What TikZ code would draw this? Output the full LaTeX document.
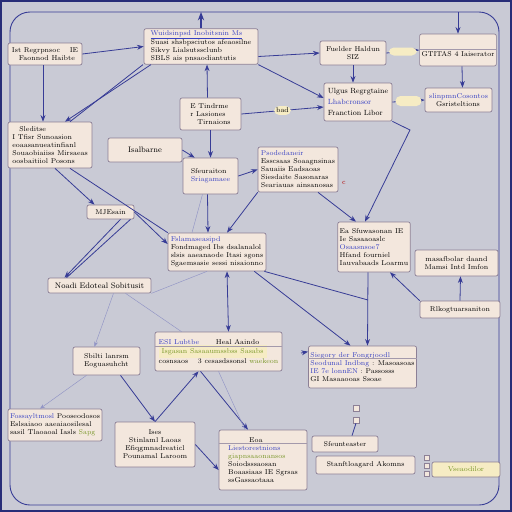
\documentclass[tikz,border=0pt]{standalone}
\usepackage{xcolor}
\definecolor{bgcol}{RGB}{201, 202, 213}
\definecolor{navyedge}{RGB}{40, 45, 120}
\definecolor{boxfill}{RGB}{243, 231, 221}
\definecolor{boxline}{RGB}{140, 128, 150}
\definecolor{linkblue}{RGB}{55, 60, 150}
\definecolor{titleblue}{RGB}{55, 65, 195}
\definecolor{blobyellow}{RGB}{246, 236, 196}
\definecolor{leafgreen}{RGB}{120, 150, 40}
\usepackage{tikz}
\usetikzlibrary{arrows.meta, positioning, calc}

\begin{document}
\begin{tikzpicture}[x=1pt, y=-1pt, >=Stealth,
    box/.style={draw=boxline, fill=boxfill, rounded corners=2pt, line width=0.7pt,
      font=\fontsize{7}{8}\selectfont, inner sep=2pt, align=left},
    link/.style={draw=linkblue, line width=0.8pt},
    faint/.style={draw=linkblue!55, line width=0.45pt},
    blob/.style={fill=blobyellow, rounded corners=5pt, inner sep=2pt, font=\fontsize{7}{8}\selectfont},
    sep/.style={draw=boxline!80, line width=0.4pt},
    icon/.style={draw=boxline, fill=boxfill, minimum size=6pt, inner sep=0pt}]
    \useasboundingbox (0,0) rectangle (512,512);
    \fill[bgcol] (0,0) rectangle (512,512);
    \draw[navyedge, line width=2pt] (1,1) rectangle (511,511);
    \draw[linkblue, line width=0.9pt, rounded corners=20pt] (10,12) rectangle (499,505);

    \node[box, minimum width=74pt, minimum height=22pt] (ist) at (45,54) {Ist Regrpnsoc \quad IE\\ \quad Faonnod Haibte};
    \node[box, minimum width=114pt, minimum height=35pt] (wuid) at (201,46.5) {\textcolor{titleblue}{\underline{Wuidsinpsd Inobitsnin Ms}}\\Suasi shsbpsciutos afeaosilne\\Sikvy Lialsutssclunb\\SBLS ais pnsaodiantutis};
    \node[box, minimum width=66pt, minimum height=24pt, align=center] (fuel) at (353,53) {Fuelder Haldun\\SIZ};
    \node[box, minimum width=68pt, minimum height=32pt] (gtit) at (458,50) {\strut\\GTITAS 4 Iaiserator};
    \node[box, minimum width=68pt, minimum height=38pt, font=\fontsize{7.5}{11}\selectfont] (ulgus) at (358,102) {Ulgus Regrgtaine\\\textcolor{titleblue}{Lhabcronsor}\\Franction Libor};
    \node[box, minimum width=67pt, minimum height=24pt] (slin) at (458.5,100) {\textcolor{titleblue}{slinpmnCosontos}\\\quad Gsristeltions};
    \node[box, minimum width=61pt, minimum height=32pt] (tind) at (210.5,114) {E Tindrme\\r Lasiones\\\quad Tirnaions};
    \node[box, minimum width=84pt, minimum height=46pt] (sled) at (50,145) {\quad Sleditse\\I Tfisr Sunoasion\\eoaasanueatinfianl\\Souaobiaiiss Mirsaeas\\oosbaitiiol Posons};
    \node[box, minimum width=74pt, minimum height=24pt, font=\fontsize{8}{9}\selectfont] (isal) at (145,150) {Isalbarne};
    \node[box, minimum width=55pt, minimum height=36pt] (sfeu) at (210.5,176) {Sfeuraiton\\\textcolor{titleblue}{Sriagamaee}};
    \node[box, minimum width=80pt, minimum height=45pt] (psod) at (298,169.5) {\hfill\textcolor{titleblue}{Psodedaneir}\\Esscsaas Soaagnsinas\\Sauaiis Eadsaoas\\Siesdaite Sasonaras\\Seariauas ainsanosas};
    \node[box, minimum width=47pt, minimum height=14pt] (mje) at (110.5,212) {MJEsain};
    \node[box, minimum width=98pt, minimum height=38pt] (fsck) at (217,252) {\textcolor{titleblue}{Fslamaseasipd}\\Fondmaged Ibs dsalanalol\\slsis aaeanaode Itasi sgons\\Sgaemsasie sessi nisaionno};
    \node[box, minimum width=72pt, minimum height=50pt] (ea) at (374,247) {Ea Sfuwasonan IE\\Ie Sasaaoaslc\\\textcolor{titleblue}{Osaasnsoe7}\\Hfand fourniel\\Iauvabaads Loarmu};
    \node[box, minimum width=103pt, minimum height=15pt, font=\fontsize{8}{9}\selectfont] (noad) at (99.5,285.5) {Noadi Edoteal Sobitusit};
    \node[box, minimum width=83pt, minimum height=26pt, align=center] (masa) at (456.5,263) {masafbolar daand\\Mamsi Intd Imfon};
    \node[box, minimum width=80pt, minimum height=17pt] (rlko) at (460,309.5) {Rlkogtuarsaniton};
    \node[box, minimum width=127pt, minimum height=39pt] (esil) at (218.5,351.5) {\textcolor{titleblue}{ESI Lubtbe} \qquad Heal Aaindo\\\colorbox{blobyellow}{\textcolor{leafgreen}{Isgasan Sasaaumssbss Sasabs}}\\cosnsaos \quad 3 cesasdssonsl \textcolor{leafgreen}{waekeon}};
    \node[box, minimum width=67pt, minimum height=28pt] (sbil) at (106.5,361) {Sbilti lanrsm\\Eoguasuhcht};
    \node[box, minimum width=95pt, minimum height=42pt] (sieg) at (362.5,367) {\textcolor{titleblue}{Siegory der Fongrjoodl}\\\textcolor{titleblue}{Seodunal Indbng} : Masoasoas\\\textcolor{titleblue}{IE 7e lonnEN} : Passosss\\GI Masaaooas Ssoae};
    \node[box, minimum width=94pt, minimum height=32pt] (fore) at (55,425) {\textcolor{titleblue}{Fossayltmosl} Pooseodosos\\Eslsaiaoo aaeaiaosilesal\\sasil Tlaoaoal Iasls \textcolor{leafgreen}{Sapg}};
    \node[box, minimum width=80pt, minimum height=45pt, align=center] (ises) at (155,444.5) {Ises\\Stinlaml Laoas\\Efiqgmnadreaticl\\Pounamal Laroom};
    \node[box, minimum width=88pt, minimum height=60pt] (eoa) at (263,460) {\qquad\quad Eoa\\\textcolor{titleblue}{Liestorestnions}\\\textcolor{leafgreen}{giapnsaaonansos}\\Soiodsssaosan\\Boaasiaas IE Sgrsas\\ssGassaotaaa};
    \node[box, minimum width=66pt, minimum height=16pt] (sfeun) at (345,444) {Sfeunteaster};
    \node[box, minimum width=99pt, minimum height=18pt] (stan) at (365.5,465) {Stanftloagard Akomns};
    \node[box, fill=blobyellow, minimum width=68pt, minimum height=15pt] (vsea) at (466,469.5) {\textcolor{leafgreen}{Vseaodilor}};

    \node[icon] (icA) at (356,408) {};
    \node[icon] (icB) at (356,420) {};
    \node[icon, minimum size=5pt] (icC) at (427,458) {};
    \node[icon, minimum size=5pt] (icD) at (427,466) {};
    \node[icon, minimum size=5pt] (icE) at (427,474) {};
    \node[text=red!70!black, font=\fontsize{7}{8}\selectfont] (redc) at (344,183) {c};

    \coordinate (ftop) at (201,12);
    \coordinate (ftopr) at (458,12);
    \coordinate (kink) at (410,130);
    \coordinate (join) at (368,300);
    \coordinate (stub) at (301,353);

    \draw[sep] ([yshift=-16pt]gtit.north west) -- ([yshift=-16pt]gtit.north east);
    \draw[sep] ([yshift=-15pt]esil.north west) -- ([yshift=-15pt]esil.north east);
    \draw[sep] ([yshift=-13pt]sieg.north west) -- ([yshift=-13pt]sieg.north east);
    \draw[sep] ([yshift=-14pt]eoa.north west) -- ([yshift=-14pt]eoa.north east);

    \draw[link, ->] (ist.east) -- (wuid.west);
    \draw[link, ->] ([xshift=-2pt]ist.south) -- ([xshift=-7pt]sled.north);
    \draw[link, ->] ([xshift=-50pt]wuid.south) -- ([xshift=15pt]sled.north);
    \draw[link] ([xshift=-58pt]wuid.south) -- ([xshift=20pt]sled.north);
    \draw[link, ->, line width=1.2pt] (wuid.north) -- (ftop);
    \draw[link, ->] (ftopr) -- (gtit.north);
    \draw[link, ->] ([yshift=-10pt]wuid.east) -- (fuel.west);
    \draw[link, ->] (fuel.east) -- node[blob, minimum width=28pt, minimum height=8pt] {} (gtit.west);
    \draw[link, ->] (fuel.south) -- ([xshift=-5pt]ulgus.north);
    \draw[link, ->] ([xshift=4pt]gtit.south) -- ([xshift=4pt]slin.north);
    \draw[link, ->] (ulgus.east) -- node[blob, minimum width=26pt, minimum height=10pt] {} (slin.west);
    \draw[link, ->] (tind.east) -- node[blob, pos=0.5] {bad} ([yshift=-5pt]ulgus.west);
    \draw[link, ->] (wuid.south east) -- ([yshift=4pt]ulgus.west);
    \draw[link, ->] ([xshift=-3pt]tind.north) -- ([xshift=6pt]wuid.south);
    \draw[link, ->] (tind.south) -- (sfeu.north);
    \draw[link, ->] (isal.east) -- ([xshift=12pt]sfeu.north west);
    \draw[link, ->] (sfeu.east) -- (psod.west);
    \draw[link, ->] (ulgus.south east) -- (kink) -- ([xshift=-9pt]ea.north);
    \draw[link, ->] ([xshift=20pt]psod.south) -- ([xshift=-18pt]ea.north);
    \draw[link, ->] (psod.south west) -- ([xshift=10pt]fsck.north);
    \draw[faint] ([xshift=-8pt]sfeu.south) -- ([xshift=-25pt]fsck.north);
    \draw[link, ->] ([xshift=-3pt]sfeu.south) -- ([xshift=-9pt]fsck.north);
    \draw[link, ->] ([xshift=5pt]sled.south) -- ([xshift=-16pt]mje.north);
    \draw[link] ([xshift=20pt]sled.south) -- (fsck.north west);
    \draw[link, ->] (mje.east) -- ([yshift=8pt]fsck.west);
    \draw[link, ->] ([xshift=10pt]mje.south) -- ([xshift=-35pt]noad.north);
    \draw[link] ([xshift=20pt]mje.south) -- ([xshift=-33pt]noad.north);
    \draw[faint] (noad.south east) -- ([xshift=-10pt]fsck.south);
    \draw[faint, ->] ([xshift=14pt]noad.south) -- ([xshift=-12pt]sbil.north);
    \draw[faint] ([xshift=26pt]noad.south) -- ([xshift=-37pt]esil.north);
    \draw[link, <->] ([xshift=10pt]fsck.south) -- ([xshift=10pt]esil.north);
    \draw[link, ->] ([xshift=-12pt]fsck.south east) -- ([xshift=-12pt]sieg.north);
    \draw[link] ([xshift=-2pt]fsck.south east) -- (join);
    \draw[link, ->] ([xshift=-6pt]ea.south) -- ([xshift=5pt]sieg.north);
    \draw[link, ->] (rlko.north west) -- ([xshift=16pt]ea.south);
    \draw[link, ->] (rlko.north) -- ([xshift=4pt]masa.south);
    \draw[faint, ->] ([xshift=-20pt]sbil.south) -- ([xshift=-15pt]fore.north);
    \draw[link, ->] ([xshift=14pt]sbil.south) -- (ises.north);
    \draw[link, ->] (ises.north) -- ([xshift=-20pt]esil.south);
    \draw[link, ->] ([xshift=-18pt]esil.south) -- ([xshift=-15pt]eoa.north);
    \draw[faint] (esil.south) -- ([xshift=-18pt]eoa.north);
    \draw[link, ->] (ises.east) -- ([yshift=-10pt]eoa.west);
    \draw[link, ->] (stub) -- ([yshift=-6pt]sieg.north west);
    \draw[link] (icB.south) -- ([xshift=7pt]sfeun.north);
\end{tikzpicture}
\end{document}
